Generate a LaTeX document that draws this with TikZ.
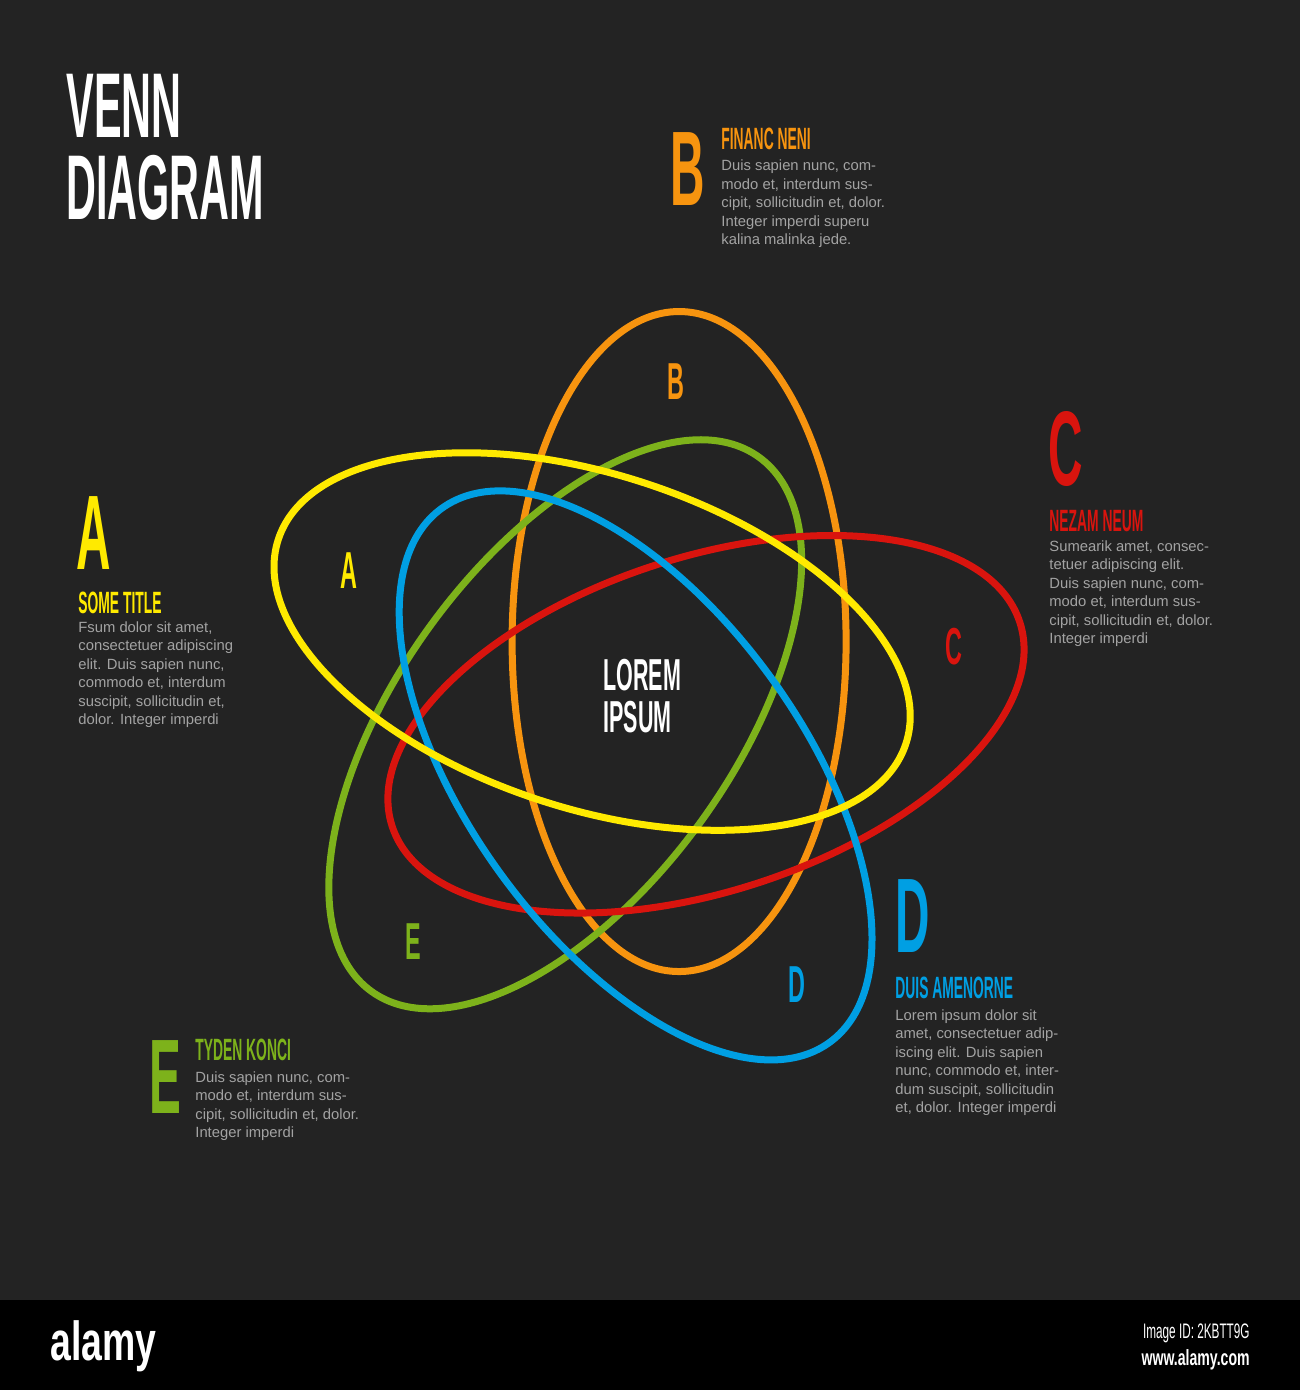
\documentclass[tikz,border=0pt]{standalone}
\usepackage{fontspec}
\setmainfont{Liberation Sans}
\newfontfamily\condfont[FakeStretch=0.45]{Liberation Sans}
\newfontfamily\centerfont[FakeStretch=0.48]{Liberation Sans}
\newfontfamily\logofont[FakeStretch=0.68]{Liberation Sans}
\newfontfamily\idfont[FakeStretch=0.56]{Liberation Sans}
\newfontfamily\wwwfont[FakeStretch=0.64]{Liberation Sans}
\definecolor{bg}{HTML}{232323}
\definecolor{corange}{HTML}{F7940F}
\definecolor{cyellow}{HTML}{FFEA00}
\definecolor{cred}{HTML}{D9140E}
\definecolor{cgreen}{HTML}{7DB21B}
\definecolor{cblue}{HTML}{009FE3}
\definecolor{bodygray}{HTML}{A3A3A3}
\newcommand{\bodytxt}[1]{\parbox[t]{220pt}{\fontsize{7.4}{9.25}\selectfont #1}}
\newcommand{\titletxt}[1]{\parbox[t]{200pt}{\fontsize{46}{41}\selectfont #1}}
\tikzset{
  ring/.style={draw, line width=3.5pt},
  cond/.style={inner sep=0pt, font=\condfont\bfseries\fontsize{#1}{#1}\selectfont},
  body/.style={anchor=base west, inner sep=0pt, text=bodygray},
}
\begin{document}
\begin{tikzpicture}[x=0.5pt,y=0.5pt]
\useasboundingbox (0,0) rectangle (1300,-1390);
\fill[bg] (0,0) rectangle (1300,-1300);
\fill[black] (0,-1300) rectangle (1300,-1390);
\coordinate (O) at (635.6,-701.4);
% rings
\draw[ring,corange,shift={(O)},rotate=54,shift={(74,0)},rotate=36] (0,0) ellipse [x radius=330,y radius=167];
\draw[ring,cgreen,shift={(O)},rotate=198,shift={(74,0)},rotate=36] (0,0) ellipse [x radius=330,y radius=167];
\draw[ring,cred,shift={(O)},rotate=342,shift={(74,0)},rotate=36] (0,0) ellipse [x radius=330,y radius=167];
\draw[ring,cblue,shift={(O)},rotate=270,shift={(74,0)},rotate=36] (0,0) ellipse [x radius=330,y radius=167];
\draw[ring,cyellow,shift={(O)},rotate=126,shift={(74,0)},rotate=36] (0,0) ellipse [x radius=330,y radius=167];
% inner labels
\node[cond=26,text=cyellow] (inA) at (349,-571) {A};
\node[cond=26,text=corange] (inB) at (676,-382) {B};
\node[cond=26,text=cred] (inC) at (954,-647) {C};
\node[cond=26,text=cblue] (inD) at (797,-985) {D};
\node[cond=26,text=cgreen] (inE) at (413,-942) {E};
% centre
\node[inner sep=0pt,text=white,anchor=base west,font=\centerfont\bfseries\fontsize{22.4}{22.4}\selectfont] (lorem) at (603,-690) {LOREM};
\node[inner sep=0pt,text=white,anchor=base west,font=\centerfont\bfseries\fontsize{22.4}{22.4}\selectfont] (ipsum) at (603,-732) {IPSUM};
% title
\node[inner sep=0pt,text=white,anchor=base west,font=\condfont\bfseries] (title) at (66,-138) {\titletxt{VENN\\DIAGRAM}};
% big letters
\node[cond=53,text=cyellow,anchor=base west] (bigA) at (76,-569) {A};
\node[cond=53,text=corange,anchor=base west] (bigB) at (670,-206) {B};
\node[cond=53,text=cred,anchor=base west] (bigC) at (1048,-485) {C};
\node[cond=53,text=cblue,anchor=base west] (bigD) at (895,-952) {D};
\node[cond=53,text=cgreen,anchor=base west] (bigE) at (149,-1113) {E};
% subtitles
\node[cond=15.4,text=cyellow,anchor=base west] (subA) at (78,-613) {SOME TITLE};
\node[cond=15.4,text=corange,anchor=base west] (subB) at (721,-150) {FINANC NENI};
\node[cond=15.4,text=cred,anchor=base west] (subC) at (1049,-531) {NEZAM NEUM};
\node[cond=15.4,text=cblue,anchor=base west] (subD) at (895,-998) {DUIS AMENORNE};
\node[cond=15.4,text=cgreen,anchor=base west] (subE) at (195,-1060) {TYDEN KONCI};
% body texts
\node[body] (txtA) at (78,-632) {\bodytxt{Fsum dolor sit amet,\\consectetuer adipiscing\\elit. Duis sapien nunc,\\commodo et, interdum\\suscipit, sollicitudin et,\\dolor. Integer imperdi}};
\node[body] (txtB) at (721,-171) {\bodytxt{Duis sapien nunc, com-\\modo et, interdum sus-\\cipit, sollicitudin et, dolor.\\Integer imperdi superu\\kalina malinka jede.}};
\node[body] (txtC) at (1049,-551) {\bodytxt{Sumearik amet, consec-\\tetuer adipiscing elit.\\Duis sapien nunc, com-\\modo et, interdum sus-\\cipit, sollicitudin et, dolor.\\Integer imperdi}};
\node[body] (txtD) at (895,-1020) {\bodytxt{Lorem ipsum dolor sit\\amet, consectetuer adip-\\iscing elit. Duis sapien\\nunc, commodo et, inter-\\dum suscipit, sollicitudin\\et, dolor. Integer imperdi}};
\node[body] (txtE) at (195,-1082) {\bodytxt{Duis sapien nunc, com-\\modo et, interdum sus-\\cipit, sollicitudin et, dolor.\\Integer imperdi}};
% bottom bar
\node[inner sep=0pt,anchor=base west,text=white,font=\logofont\bfseries\fontsize{27.5}{27.5}\selectfont] (logo) at (50,-1360) {alamy};
\node[inner sep=0pt,anchor=base east,text=white,font=\idfont\fontsize{10.5}{10.5}\selectfont] (imgid) at (1250,-1338) {Image ID: 2KBTT9G};
\node[inner sep=0pt,anchor=base east,text=white,font=\wwwfont\bfseries\fontsize{11}{11}\selectfont] (www) at (1250,-1365) {www.alamy.com};
\end{tikzpicture}
\end{document}
